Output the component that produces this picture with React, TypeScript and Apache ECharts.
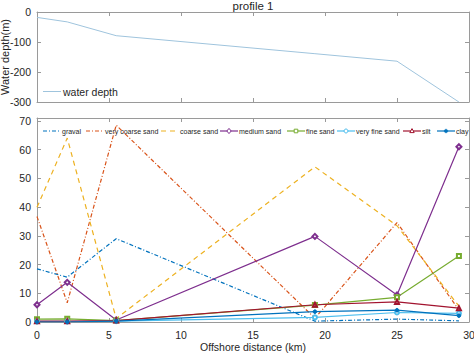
import React, { useEffect, useRef } from "react";
import * as echarts from "echarts";

const distance = [0, 2.1, 5.5, 19.3, 25, 29.3];
const waterDepth = [-18, -33, -79, -139, -164, -300];

const graval = [18.5, 15.6, 29, 0.3, 1, 0.4];
const veryCoarseSand = [36.7, 6.7, 68.5, 1.3, 34.6, 4.2];
const coarseSand = [39.9, 64, 1.2, 54, 33.5, 5.5];
const mediumSand = [6, 13.8, 0.7, 29.8, 9.4, 61];
const fineSand = [1, 1.1, 0.5, 5.9, 8.6, 23];
const veryFineSand = [0.2, 0.2, 0.3, 1.6, 3.3, 3.0];
const silt = [0.3, 0.3, 0.5, 6.0, 7.0, 4.8];
const clay = [0, 0, 0.3, 3.6, 4.1, 2.2];

const xTicks = [0, 5, 10, 15, 20, 25, 30];
const depthTicks = [0, -100, -200, -300];
const pctTicks = [0, 10, 20, 30, 40, 50, 60, 70];

const FONT = "'Liberation Sans', Arial, Helvetica, sans-serif";
const TEXT = "#262626";
const BOX = "#9a9a9a";
const DASHDOT = [4, 2, 1, 2];
const DASH = [5, 4];

type Spec = {
  name: string;
  data: number[];
  color: string;
  dash: number[] | null;
  marker: string;
};

const specs: Spec[] = [
  { name: "graval", data: graval, color: "#0072BD", dash: DASHDOT, marker: "none" },
  { name: "very coarse sand", data: veryCoarseSand, color: "#D95319", dash: DASHDOT, marker: "none" },
  { name: "coarse sand", data: coarseSand, color: "#EDB120", dash: DASH, marker: "none" },
  { name: "medium sand", data: mediumSand, color: "#7E2F8E", dash: null, marker: "diamond" },
  { name: "fine sand", data: fineSand, color: "#77AC30", dash: null, marker: "rect" },
  { name: "very fine sand", data: veryFineSand, color: "#4DBEEE", dash: null, marker: "circle" },
  { name: "silt", data: silt, color: "#A2142F", dash: null, marker: "triangle" },
  { name: "clay", data: clay, color: "#0072BD", dash: null, marker: "dot" },
];

// legend layout (line start x for each entry)
const legendStarts = [43, 86, 161, 220, 287, 337, 403, 437];
const legendLineLen = 18;
const legendY = 131;

const pairs = (ys: number[]) => distance.map((x, i) => [x, ys[i]]);

function markerGraphic(kind: string, cx: number, cy: number, color: string): any[] {
  const st = { stroke: color, fill: "#fff", lineWidth: 1 };
  if (kind === "diamond")
    return [{ type: "polygon", shape: { points: [[cx, cy - 2.6], [cx + 2.2, cy], [cx, cy + 2.6], [cx - 2.2, cy]] }, style: st }];
  if (kind === "rect")
    return [{ type: "rect", shape: { x: cx - 1.8, y: cy - 1.8, width: 3.6, height: 3.6 }, style: st }];
  if (kind === "circle")
    return [{ type: "circle", shape: { cx, cy, r: 2 }, style: st }];
  if (kind === "triangle")
    return [{ type: "polygon", shape: { points: [[cx, cy - 2.4], [cx + 2.2, cy + 1.6], [cx - 2.2, cy + 1.6]] }, style: st }];
  if (kind === "dot")
    return [{ type: "circle", shape: { cx, cy, r: 1.8 }, style: { fill: color, stroke: color, lineWidth: 0.5 } }];
  return [];
}

const symbolMap: Record<string, string> = {
  none: "none",
  diamond: "emptyDiamond",
  rect: "emptyRect",
  circle: "emptyCircle",
  triangle: "emptyTriangle",
  dot: "circle",
};

export default function App() {
  const ref = useRef<HTMLDivElement>(null);
  useEffect(() => {
    if (!ref.current) return;
    const chart = echarts.init(ref.current, undefined, { renderer: "svg" });

    const xAx = (grid: number, pos: "top" | "bottom", labels: boolean) => ({
      type: "value",
      gridIndex: grid,
      position: pos,
      min: xTicks[0],
      max: xTicks[xTicks.length - 1],
      interval: 5,
      axisLine: { show: true, onZero: false, lineStyle: { color: BOX, width: 1 } },
      axisTick: { show: true, inside: true, length: 4, lineStyle: { color: BOX } },
      axisLabel: { show: labels, color: TEXT, fontSize: 10.5, fontFamily: FONT, margin: 7 },
      splitLine: { show: false },
    });

    const yAx = (grid: number, pos: "left" | "right", labels: boolean, min: number, max: number, interval: number) => ({
      type: "value",
      gridIndex: grid,
      position: pos,
      min,
      max,
      interval,
      axisLine: { show: true, onZero: false, lineStyle: { color: BOX, width: 1 } },
      axisTick: { show: true, inside: true, length: 4, lineStyle: { color: BOX } },
      axisLabel: { show: labels, color: TEXT, fontSize: 10.5, fontFamily: FONT, margin: 6 },
      splitLine: { show: false },
    });

    const legendGraphics: any[] = [];
    // top legend: water depth
    legendGraphics.push({
      type: "line",
      shape: { x1: 43, y1: 91.5, x2: 61, y2: 91.5 },
      style: { stroke: "#9fc4dd", lineWidth: 1 },
    });
    legendGraphics.push({
      type: "text",
      x: 63,
      y: 91.5,
      style: { text: "water depth", fontSize: 10.5, fontFamily: FONT, fill: TEXT, verticalAlign: "middle", align: "left" },
    });
    specs.forEach((s, i) => {
      const x0 = legendStarts[i];
      legendGraphics.push({
        type: "line",
        shape: { x1: x0, y1: legendY, x2: x0 + legendLineLen, y2: legendY },
        style: { stroke: s.color, lineWidth: 1.2, lineDash: s.dash || undefined },
      });
      legendGraphics.push(...markerGraphic(s.marker, x0 + legendLineLen / 2, legendY, s.color));
      legendGraphics.push({
        type: "text",
        x: x0 + legendLineLen + 1,
        y: legendY,
        style: { text: s.name, fontSize: 7, fontFamily: FONT, fill: TEXT, verticalAlign: "middle", align: "left" },
      });
    });

    chart.setOption({
      animation: false,
      backgroundColor: "#ffffff",
      title: {
        text: "profile 1",
        left: 253,
        textAlign: "center",
        top: 0,
        padding: 0,
        textStyle: { fontSize: 11.5, fontWeight: "normal", color: TEXT, fontFamily: FONT },
      },
      grid: [
        { left: 37, right: 5, top: 12, bottom: 252, outerBoundsMode: "none", containLabel: false },
        { left: 37, right: 5, top: 118, bottom: 32, outerBoundsMode: "none", containLabel: false },
      ],
      xAxis: [
        xAx(0, "bottom", false),
        xAx(0, "top", false),
        {
          ...xAx(1, "bottom", true),
          name: "Offshore distance (km)",
          nameLocation: "middle",
          nameGap: 19,
          nameMoveOverlap: false,
          nameTextStyle: { fontSize: 10.5, color: TEXT, fontFamily: FONT },
        },
        xAx(1, "top", false),
      ],
      yAxis: [
        {
          ...yAx(0, "left", true, depthTicks[depthTicks.length - 1], depthTicks[0], 100),
          name: "Water depth(m)",
          nameLocation: "middle",
          nameGap: 27,
          nameMoveOverlap: false,
          nameTextStyle: { fontSize: 11, color: TEXT, fontFamily: FONT },
        },
        yAx(0, "right", false, depthTicks[depthTicks.length - 1], depthTicks[0], 100),
        yAx(1, "left", true, pctTicks[0], 71, 10),
        yAx(1, "right", false, pctTicks[0], 71, 10),
      ],
      graphic: legendGraphics,
      series: [
        {
          name: "water depth",
          type: "line",
          xAxisIndex: 0,
          yAxisIndex: 0,
          data: pairs(waterDepth),
          symbol: "none",
          lineStyle: { color: "#9fc4dd", width: 1 },
          itemStyle: { color: "#9fc4dd" },
        },
        ...specs.map((s) => ({
          name: s.name,
          type: "line",
          xAxisIndex: 2,
          yAxisIndex: 2,
          data: pairs(s.data),
          symbol: symbolMap[s.marker],
          symbolSize: s.marker === "diamond" ? 5 : s.marker === "dot" ? 3.6 : 4,
          showSymbol: s.marker !== "none",
          lineStyle: { color: s.color, width: 1.2, type: s.dash || "solid" },
          itemStyle: { color: s.color, borderColor: s.color, borderWidth: 1 },
        })),
      ],
    });
    return () => chart.dispose();
  }, []);
  return <div ref={ref} style={{ width: 474, height: 354, position: "absolute", left: 0, top: 0 }} />;
}
